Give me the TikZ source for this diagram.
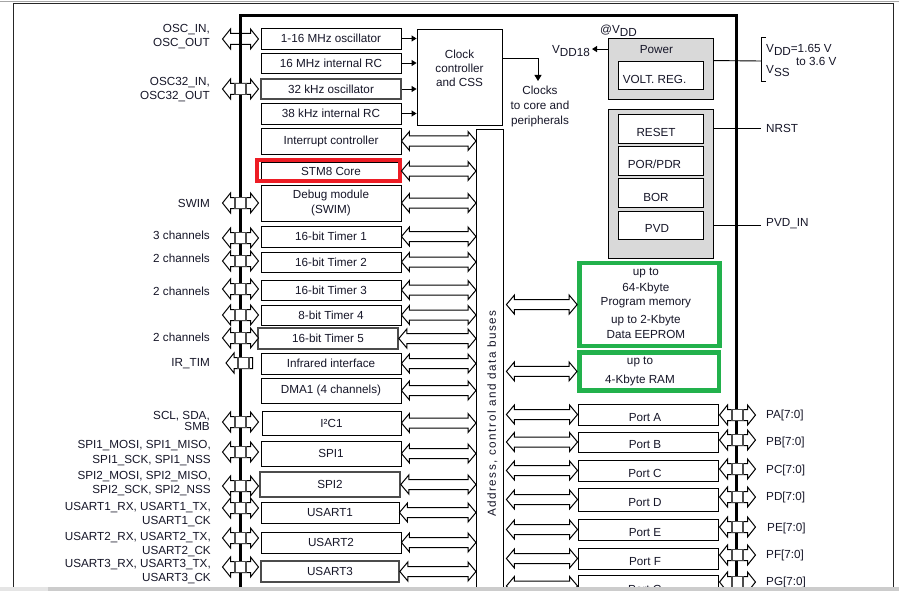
\documentclass[tikz,border=0pt]{standalone}
\usepackage{fontspec}
\setmainfont{Liberation Sans}
\newfontfamily\spacedfont[LetterSpace=12.8]{Liberation Sans}
\usetikzlibrary{calc,arrows.meta}
\definecolor{memgreen}{RGB}{34,177,76}
\definecolor{corered}{RGB}{237,28,36}
\definecolor{pgray}{RGB}{217,217,217}
\definecolor{txt}{RGB}{22,22,40}
\newcommand\lsub[1]{\raisebox{-3pt}{#1}}
\newcommand\bnode[7][blk]{\node[#1, minimum width={#5-#3}, minimum height={#6-#4}] (#2) at ({(#3+#5)/2},{(#4+#6)/2}) {#7};}
\newcommand\barrow[2]{\draw[barr] let \p1=#1, \p2=#2 in (\x1,\y1) -- ++(8pt,9.5pt) -- ++(0,-4.5pt) -- (\x2-8pt,\y1+5pt) -- ++(0,4.5pt) -- (\x2,\y1) -- ++(-8pt,-9.5pt) -- ++(0,4.5pt) -- (\x1+8pt,\y1-5pt) -- ++(0,-4.5pt) -- cycle;}
\newcommand\ioplain[2]{\draw[barr] ({#1-18},{#2}) -- ({#1-10},{#2-10}) -- ({#1-10},{#2-5.5}) -- ({#1+10},{#2-5.5}) -- ({#1+10},{#2-10}) -- ({#1+18},{#2}) -- ({#1+10},{#2+10}) -- ({#1+10},{#2+5.5}) -- ({#1-10},{#2+5.5}) -- ({#1-10},{#2+10}) -- cycle;}
\newcommand\ioarrow[2]{\ioplain{#1}{#2}\draw[iosq] ({#1-5.5},{#2-5.5}) rectangle ({#1+5.5},{#2+5.5});}
\newcommand\irarrow[2]{\draw[barr] ({#1-14.5},{#2}) -- ({#1-6.5},{#2-10}) -- ({#1-6.5},{#2-5.5}) -- ({#1+12},{#2-5.5}) -- ({#1+12},{#2+5.5}) -- ({#1-6.5},{#2+5.5}) -- ({#1-6.5},{#2+10}) -- cycle;\draw[iosq] ({#1-2.5},{#2-5.5}) rectangle ({#1+8.5},{#2+5.5});}
\begin{document}
\begin{tikzpicture}[x=1pt,y=-1pt,
  every node/.style={font=\fontsize{11.7}{14}\selectfont, text=txt, inner sep=0pt},
  blk/.style={draw=black, line width=0.9pt, fill=white, align=center, font=\fontsize{11.7}{15.5}\selectfont},
  gblk/.style={draw=black!70, line width=1.6pt, fill=white, align=center},
  gbox/.style={draw=black, line width=0.9pt, fill=pgray},
  barr/.style={draw=black, fill=white, line width=1pt, line join=miter},
  iosq/.style={draw=black!70, fill=white, line width=1.3pt},
  lab/.style={anchor=east, align=right},
  rlab/.style={anchor=west},
  tip/.style={-{Triangle[length=5pt,width=6pt]}, line width=0.9pt}]
\useasboundingbox (0,0) rectangle (899,591);
\fill[white] (0,0) rectangle (899,591);
\begin{scope}
\clip (0,0) rectangle (899,587);
% page frame
\draw[black!35, line width=0.8pt] (0,1.2) -- (899,1.2);
\draw[black!85, line width=0.8pt] (13,600) -- (13,3.3) -- (893,3.3) -- (893,600);
% chip outline / buses
\draw[line width=3pt, line join=miter] (240.7,600) -- (240.7,15.5) -- (736.7,15.5) -- (736.7,600);

% left blocks
\bnode{o1}{261}{28}{401}{49}{1-16 MHz oscillator}
\bnode{o2}{261}{53}{401}{73}{16 MHz internal RC}
\bnode[gblk]{o3}{261}{79}{401}{99}{32 kHz oscillator}
\bnode{o4}{261}{103}{401}{124}{38 kHz internal RC}
\bnode{intc}{261}{128}{401}{154}{Interrupt controller}
\bnode{core}{261}{162}{401}{180}{STM8 Core}
\bnode{dbg}{261}{185}{401}{221}{Debug module\\(SWIM)}
\bnode{t1}{261}{226}{401}{247}{16-bit Timer 1}
\bnode{t2}{261}{252}{401}{272}{16-bit Timer 2}
\bnode{t3}{261}{280}{401}{300}{16-bit Timer 3}
\bnode{t4}{261}{305}{401}{325}{8-bit Timer 4}
\bnode[gblk]{t5}{258}{328}{398}{349}{16-bit Timer 5}
\bnode{ir}{261}{353}{401}{374}{Infrared interface}
\bnode{dma}{261}{378}{401}{403}{DMA1 (4 channels)}
\bnode{i2c}{262}{411}{401}{435}{I²C1}
\bnode{spi1}{261}{441}{401}{466}{SPI1}
\bnode[gblk]{spi2}{260}{472}{400}{497}{SPI2}
\bnode{us1}{261}{502}{399}{523}{USART1}
\bnode{us2}{261}{532}{401}{553}{USART2}
\bnode[gblk]{us3}{261}{561}{399}{582}{USART3}
\draw[corered, line width=4pt] ([xshift=-3.5pt,yshift=2pt]core.north west) rectangle ([xshift=-1.5pt,yshift=-0.5pt]core.south east);

% clock controller
\bnode[blk, label={[align=center, yshift=8.5pt, font=\fontsize{11.7}{14}\selectfont]center:Clock\\controller\\and CSS}]{clk}{417}{29}{502}{125}{}
\foreach \oo in {o1,o2,o3,o4} {\draw[tip] (\oo.east) -- (\oo.east -| clk.west);}
\coordinate (clkdn) at (538,81);
\draw[-{Triangle[length=6pt,width=7pt]}, line width=0.9pt] ([yshift=-30pt]clk.north east) -| (clkdn);
\node[align=center, font=\fontsize{11.7}{15}\selectfont] (clktxt) at (540,106) {Clocks\\to core and\\peripherals};

% internal bus
\node[draw=black, line width=0.9pt, fill=white, minimum width=27, minimum height=500, anchor=north west] (bus) at (476,129) {};
\node[rotate=90, font=\spacedfont\fontsize{11.7}{14}\selectfont] (bustxt) at (492.5,413.5) {Address, control and data buses};

% power
\bnode[gbox, label={[anchor=center, xshift=-4pt, yshift=-12pt]north:Power}]{pwr}{608}{38}{713}{99}{}
\bnode[blk, label={[xshift=-6pt,yshift=-4pt]center:VOLT. REG.}]{vreg}{618}{61}{703}{89}{}
\node[anchor=base west] (atvdd) at (600,34) {@V\lsub{DD}};
\node[anchor=base east, inner xsep=2pt] (vdd18) at (592,53.3) {V\lsub{DD18}};
\draw[tip] ([yshift=-11.5pt]pwr.north west) -- ([yshift=-11.5pt]pwr.north west -| vdd18.east);
\coordinate (brk) at (761,61);
\coordinate (bt) at (766,37);
\coordinate (bb) at (766,81);
\draw[line width=0.9pt] ([yshift=-23pt]pwr.north east) -- (brk);
\draw[line width=0.9pt] (bt) -- (bt -| brk) -- (bb -| brk) -- (bb);
\node[anchor=base west] (vddv) at (766,53) {V\lsub{DD}=1.65 V};
\node[anchor=base west] (to36) at (796,65.7) {to 3.6 V};
\node[anchor=base west] (vss) at (766,74) {V\lsub{SS}};

% reset group
\bnode[gbox]{grp}{608}{109}{713}{258}{}
\bnode[blk, label={[xshift=-4.5pt,yshift=-4pt]center:RESET}]{rst}{618}{114}{703}{143}{}
\bnode[blk, label={[xshift=-6pt,yshift=-3.5pt]center:POR/PDR}]{por}{618}{146}{703}{175}{}
\bnode[blk, label={[xshift=-4.5pt,yshift=-4.5pt]center:BOR}]{bor}{618}{178}{703}{207}{}
\bnode[blk, label={[xshift=-3.5pt,yshift=-3pt]center:PVD}]{pvd}{618}{211}{703}{239}{}
\node[anchor=west] (nrst) at (766,128) {NRST};
\node[anchor=west] (pvdin) at (766,224) {PVD\_IN};
\draw[line width=0.9pt] (rst.east -| grp.east) -- ([xshift=-5pt]nrst.west |- rst.east);
\draw[line width=0.9pt] (pvd.east -| grp.east) -- ([xshift=-5pt]pvdin.west |- pvd.east);

% memories
\node[draw=memgreen, line width=4.5pt, minimum width=140, minimum height=82.75,
  label={[align=center, xshift=-3.5pt, yshift=1pt, font=\fontsize{11.7}{14.5}\selectfont]center:up to\\[1.5pt]64-Kbyte\\[-0.5pt]Program memory\\[3.5pt]up to 2-Kbyte\\[0.5pt]Data EEPROM}] (mem) at (649.4,304.6) {};
\node[draw=memgreen, line width=4.5pt, minimum width=139.5, minimum height=38.25,
  label={[align=center, xshift=-9pt]center:up to\\[4.5pt]4-Kbyte RAM}] (ram) at (649,371.4) {};

% ports
\bnode[blk, label={[xshift=-3pt,yshift=-3pt]center:Port A}]{pa}{578}{404}{718}{425}{}
\bnode[blk, label={[xshift=-3pt,yshift=-3pt]center:Port B}]{pb}{578}{432}{718}{452}{}
\bnode[blk, label={[xshift=-3pt,yshift=-3pt]center:Port C}]{pc}{578}{460}{718}{481}{}
\bnode[blk, label={[xshift=-3pt,yshift=-3pt]center:Port D}]{pd}{578}{488}{718}{511}{}
\bnode[blk, label={[xshift=-3pt,yshift=-3pt]center:Port E}]{pe}{578}{519}{718}{540}{}
\bnode[blk, label={[xshift=-3pt,yshift=-3pt]center:Port F}]{pf}{578}{548}{718}{569}{}
\bnode[blk, label={[xshift=-3pt,yshift=-3pt]center:Port G}]{pg}{578}{575}{718}{597}{}

% block arrows
\foreach \bb in {intc,core,dbg,t1,t2,t3,t4,t5,ir,dma,i2c,spi1,spi2,us1,us2,us3} {\barrow{(\bb.east)}{(bus.west)}}
\foreach \qq in {mem,ram,pa,pb,pc,pd,pe,pf,pg} {\barrow{([xshift=2.5pt]bus.east |- \qq.west)}{(\qq.west)}}

% left I/O
\ioplain{240.5}{39}
\draw[line width=3pt] (240.7,17) -- (240.7,55);
\foreach \yy in {89,203,238,261,289,315,338,422,452,486,508,538,567} {\ioarrow{240.5}{\yy}}
\irarrow{240.5}{363}
\node[lab] (losc) at (210,37) {OSC\_IN,\\OSC\_OUT};
\node[lab] (losc32) at (210,90) {OSC32\_IN,\\OSC32\_OUT};
\node[lab] (lswim) at (210,203) {SWIM};
\node[lab] (lt1) at (210,235.5) {3 channels};
\node[lab] (lt2) at (210,258.5) {2 channels};
\node[lab] (lt3) at (210,291) {2 channels};
\node[lab] (lt5) at (210,337) {2 channels};
\node[lab] (lir) at (210,363.5) {IR\_TIM};
\node[lab] (li2c) at (210,421) {SCL, SDA,\\[-3.5pt]SMB};
\node[lab] (lspi1) at (211,453) {SPI1\_MOSI, SPI1\_MISO,\\[1.7pt]SPI1\_SCK, SPI1\_NSS};
\node[lab] (lspi2) at (211,484) {SPI2\_MOSI, SPI2\_MISO,\\SPI2\_SCK, SPI2\_NSS};
\node[lab] (lus1) at (211,515) {USART1\_RX, USART1\_TX,\\USART1\_CK};
\node[lab] (lus2) at (211,544.5) {USART2\_RX, USART2\_TX,\\USART2\_CK};
\node[lab] (lus3) at (211,572) {USART3\_RX, USART3\_TX,\\USART3\_CK};

% right I/O
\foreach \yy in {415,440,469,497,527,555,582} {\ioarrow{737.5}{\yy}}
\node[rlab] (lpa) at (766,415) {PA[7:0]};
\node[rlab] (lpb) at (766,442) {PB[7:0]};
\node[rlab] (lpc) at (766,470) {PC[7:0]};
\node[rlab] (lpd) at (766,497) {PD[7:0]};
\node[rlab] (lpe) at (767,528) {PE[7:0]};
\node[rlab] (lpf) at (766,555) {PF[7:0]};
\node[rlab] (lpg) at (766,582) {PG[7:0]};
\end{scope}
% bottom band
\fill[black!10] (0,587) rectangle (48,591);
\fill[black!20] (48,587) rectangle (899,591);
\end{tikzpicture}
\end{document}
